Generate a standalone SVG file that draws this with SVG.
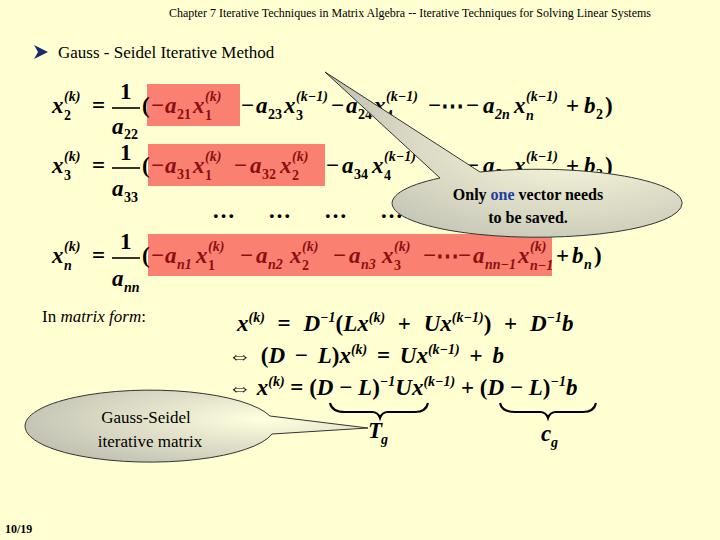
<svg xmlns="http://www.w3.org/2000/svg" width="720" height="540" viewBox="0 0 720 540">
<defs>
<style>
.hd{font-family:"Liberation Serif",serif;font-size:12px;fill:#000}
.t{font-family:"Liberation Serif",serif;font-size:17px;fill:#000}
.m{font-family:"Liberation Serif",serif;font-size:23px;font-weight:bold;font-style:italic;fill:#000}
.n{font-family:"Liberation Serif",serif;font-size:23px;font-weight:bold;fill:#000}
.s{font-family:"Liberation Serif",serif;font-size:14px;font-weight:bold;font-style:italic;fill:#000}
.sn{font-family:"Liberation Serif",serif;font-size:14px;font-weight:bold;fill:#000}
.r{fill:#8B1010}
.co{font-family:"Liberation Serif",serif;font-size:16px;font-weight:bold;fill:#000}
.hl{fill:#FA8072}
.bar{stroke:#000;stroke-width:1.6}
.br{fill:none;stroke:#000;stroke-width:2.2}
</style>
<radialGradient id="g" cx="0.7" cy="0.4" r="0.8">
<stop offset="0" stop-color="#FFFFE0"/><stop offset="1" stop-color="#BDBDB0"/>
</radialGradient>
</defs>
<rect width="720" height="540" fill="#FFFFD2"/>
<text class="hd" x="410" y="17" text-anchor="middle">Chapter 7 Iterative Techniques in Matrix Algebra -- Iterative Techniques for Solving Linear Systems</text>
<path d="M34 45 L48 52 L34 59 L38 52 Z" fill="#1A2A6C"/>
<text class="t" x="58" y="58">Gauss - Seidel Iterative Method</text>

<g id="highlights">
<rect class="hl" x="147" y="84" width="93" height="42"/>
<rect class="hl" x="148" y="144" width="177" height="42"/>
<rect class="hl" x="148" y="234" width="404" height="42"/>
</g>

<g id="eq1">
<text class="m" x="52" y="113">x</text><text class="sn" x="64" y="120">2</text><text class="s" x="64" y="101">(k)</text>
<text class="n" x="92" y="113">=</text>
<text class="n" x="120" y="99">1</text><line class="bar" x1="112" y1="108" x2="140" y2="108"/>
<text class="m" x="112" y="134">a</text><text class="sn" x="124" y="139">22</text>
<text class="n" x="142" y="113">(</text>
<text class="n r" x="151" y="113">−</text><text class="m r" x="165" y="113">a</text><text class="sn r" x="177" y="119">21</text><text class="m r" x="193" y="113">x</text><text class="sn r" x="205" y="120">1</text><text class="s r" x="205" y="101">(k)</text>
<text class="n" x="241" y="113">−</text><text class="m" x="256" y="113">a</text><text class="sn" x="268" y="119">23</text><text class="m" x="284" y="113">x</text><text class="sn" x="296" y="120">3</text><text class="s" x="296" y="101">(k−1)</text>
<text class="n" x="331" y="113">−</text><text class="m" x="346" y="113">a</text><text class="sn" x="358" y="119">24</text><text class="m" x="374" y="113">x</text><text class="sn" x="386" y="120">4</text><text class="s" x="386" y="101">(k−1)</text>
<text class="n" x="428" y="113">−⋯</text><text class="n" x="466" y="113">−</text><text class="m" x="483" y="113">a</text><text class="s" x="495" y="119">2n</text><text class="m" x="514" y="113">x</text><text class="s" x="526" y="120">n</text><text class="s" x="526" y="101">(k−1)</text>
<text class="n" x="566" y="113">+</text><text class="m" x="584" y="113">b</text><text class="sn" x="596" y="119">2</text><text class="n" x="605" y="113">)</text>
</g>

<g id="eq2">
<text class="m" x="52" y="173">x</text><text class="sn" x="64" y="180">3</text><text class="s" x="64" y="161">(k)</text>
<text class="n" x="92" y="173">=</text>
<text class="n" x="120" y="160">1</text><line class="bar" x1="112" y1="168" x2="140" y2="168"/>
<text class="m" x="112" y="196">a</text><text class="sn" x="124" y="202">33</text>
<text class="n" x="142" y="173">(</text>
<text class="n r" x="151" y="173">−</text><text class="m r" x="165" y="173">a</text><text class="sn r" x="177" y="179">31</text><text class="m r" x="193" y="173">x</text><text class="sn r" x="205" y="180">1</text><text class="s r" x="205" y="161">(k)</text>
<text class="n r" x="234" y="173">−</text><text class="m r" x="250" y="173">a</text><text class="sn r" x="262" y="179">32</text><text class="m r" x="280" y="173">x</text><text class="sn r" x="292" y="180">2</text><text class="s r" x="292" y="161">(k)</text>
<text class="n" x="326" y="173">−</text><text class="m" x="342" y="173">a</text><text class="sn" x="354" y="179">34</text><text class="m" x="372" y="173">x</text><text class="sn" x="384" y="180">4</text><text class="s" x="384" y="161">(k−1)</text>
<text class="n" x="428" y="173">−⋯</text><text class="n" x="466" y="173">−</text><text class="m" x="483" y="173">a</text><text class="s" x="495" y="179">3n</text><text class="m" x="514" y="173">x</text><text class="s" x="526" y="180">n</text><text class="s" x="526" y="161">(k−1)</text>
<text class="n" x="566" y="173">+</text><text class="m" x="584" y="173">b</text><text class="sn" x="596" y="179">3</text><text class="n" x="605" y="173">)</text>
</g>

<g id="dots">
<text class="n" x="212" y="218">…</text>
<text class="n" x="268" y="218">…</text>
<text class="n" x="324" y="218">…</text>
<text class="n" x="380" y="218">…</text>
</g>

<g id="eq3">
<text class="m" x="52" y="263">x</text><text class="s" x="64" y="270">n</text><text class="s" x="64" y="251">(k)</text>
<text class="n" x="92" y="263">=</text>
<text class="n" x="120" y="249">1</text><line class="bar" x1="112" y1="258" x2="140" y2="258"/>
<text class="m" x="112" y="286">a</text><text class="s" x="124" y="292">nn</text>
<text class="n" x="142" y="263">(</text>
<text class="n r" x="151" y="263">−</text><text class="m r" x="165" y="263">a</text><text class="s r" x="177" y="269">n1</text><text class="m r" x="196" y="263">x</text><text class="sn r" x="208" y="270">1</text><text class="s r" x="208" y="251">(k)</text>
<text class="n r" x="240" y="263">−</text><text class="m r" x="256" y="263">a</text><text class="s r" x="268" y="269">n2</text><text class="m r" x="290" y="263">x</text><text class="sn r" x="302" y="270">2</text><text class="s r" x="302" y="251">(k)</text>
<text class="n r" x="333" y="263">−</text><text class="m r" x="349" y="263">a</text><text class="s r" x="361" y="269">n3</text><text class="m r" x="382" y="263">x</text><text class="sn r" x="394" y="270">3</text><text class="s r" x="394" y="251">(k)</text>
<text class="n r" x="423" y="263">−⋯</text><text class="n r" x="458" y="263">−</text><text class="m r" x="473" y="263">a</text><text class="s r" x="485" y="269">nn−1</text><text class="m r" x="518" y="263">x</text><text class="s r" x="530" y="270">n−1</text><text class="s r" x="530" y="251">(k)</text>
<text class="n" x="556" y="263">+</text><text class="m" x="572" y="263">b</text><text class="s" x="584" y="269">n</text><text class="n" x="594" y="263">)</text>
</g>

<g id="callout1">
<path d="M325 72 L440 178 A145 34 0 1 0 480 172 Z" fill="url(#g)" stroke="#333" stroke-width="1"/>
<text class="co" x="528" y="200" text-anchor="middle">Only <tspan fill="#1F3FA0">one</tspan> vector needs</text>
<text class="co" x="528" y="223" text-anchor="middle">to be saved.</text>
</g>

<text class="t" x="42" y="322">In <tspan font-style="italic">matrix form</tspan>:</text>

<g id="matrix">
<text class="m" x="237" y="331" word-spacing="7">x<tspan class="s" dy="-9">(k)</tspan><tspan dy="9"> </tspan><tspan font-style="normal">=</tspan> D<tspan class="sn" dy="-9">−1</tspan><tspan dy="9" font-style="normal">(</tspan>Lx<tspan class="s" dy="-9">(k)</tspan><tspan dy="9" font-style="normal"> + </tspan>Ux<tspan class="s" dy="-9">(k−1)</tspan><tspan dy="9" font-style="normal">) + </tspan>D<tspan class="sn" dy="-9">−1</tspan><tspan dy="9">b</tspan></text>
<text class="m" x="228" y="363" word-spacing="4"><tspan font-style="normal">⇔  (</tspan>D <tspan font-style="normal">−</tspan> L<tspan font-style="normal">)</tspan>x<tspan class="s" dy="-9">(k)</tspan><tspan dy="9" font-style="normal"> = </tspan>Ux<tspan class="s" dy="-9">(k−1)</tspan><tspan dy="9" font-style="normal"> + </tspan>b</text>
<text class="m" x="228" y="395"><tspan font-style="normal">⇔  </tspan>x<tspan class="s" dy="-9">(k)</tspan><tspan dy="9" font-style="normal"> = (</tspan>D <tspan font-style="normal">−</tspan> L<tspan font-style="normal">)</tspan><tspan class="sn" dy="-9">−1</tspan><tspan dy="9">Ux</tspan><tspan class="s" dy="-9">(k−1)</tspan><tspan dy="9" font-style="normal"> + (</tspan>D <tspan font-style="normal">−</tspan> L<tspan font-style="normal">)</tspan><tspan class="sn" dy="-9">−1</tspan><tspan dy="9">b</tspan></text>
<path class="br" d="M330 403 Q332 412 345 412 L372 412 Q378 412 380 418 Q382 412 388 412 L415 412 Q426 412 428 403"/>
<path class="br" d="M500 403 Q502 412 515 412 L540 412 Q546 412 548 418 Q550 412 556 412 L583 412 Q594 412 596 403"/>
<text class="m" x="368" y="438">T</text><text class="s" x="381" y="444">g</text>
<text class="m" x="541" y="441">c</text><text class="s" x="551" y="447">g</text>
</g>

<g id="callout2">
<path d="M368 428 L272 434 A125 36 0 1 1 270 416 Z" fill="url(#g)" stroke="#333" stroke-width="1"/>
<text class="t" x="146" y="423" text-anchor="middle">Gauss-Seidel</text>
<text class="t" x="150" y="447" text-anchor="middle">iterative matrix</text>
</g>

<text class="hd" x="5" y="533" font-weight="bold">10/19</text>
</svg>
